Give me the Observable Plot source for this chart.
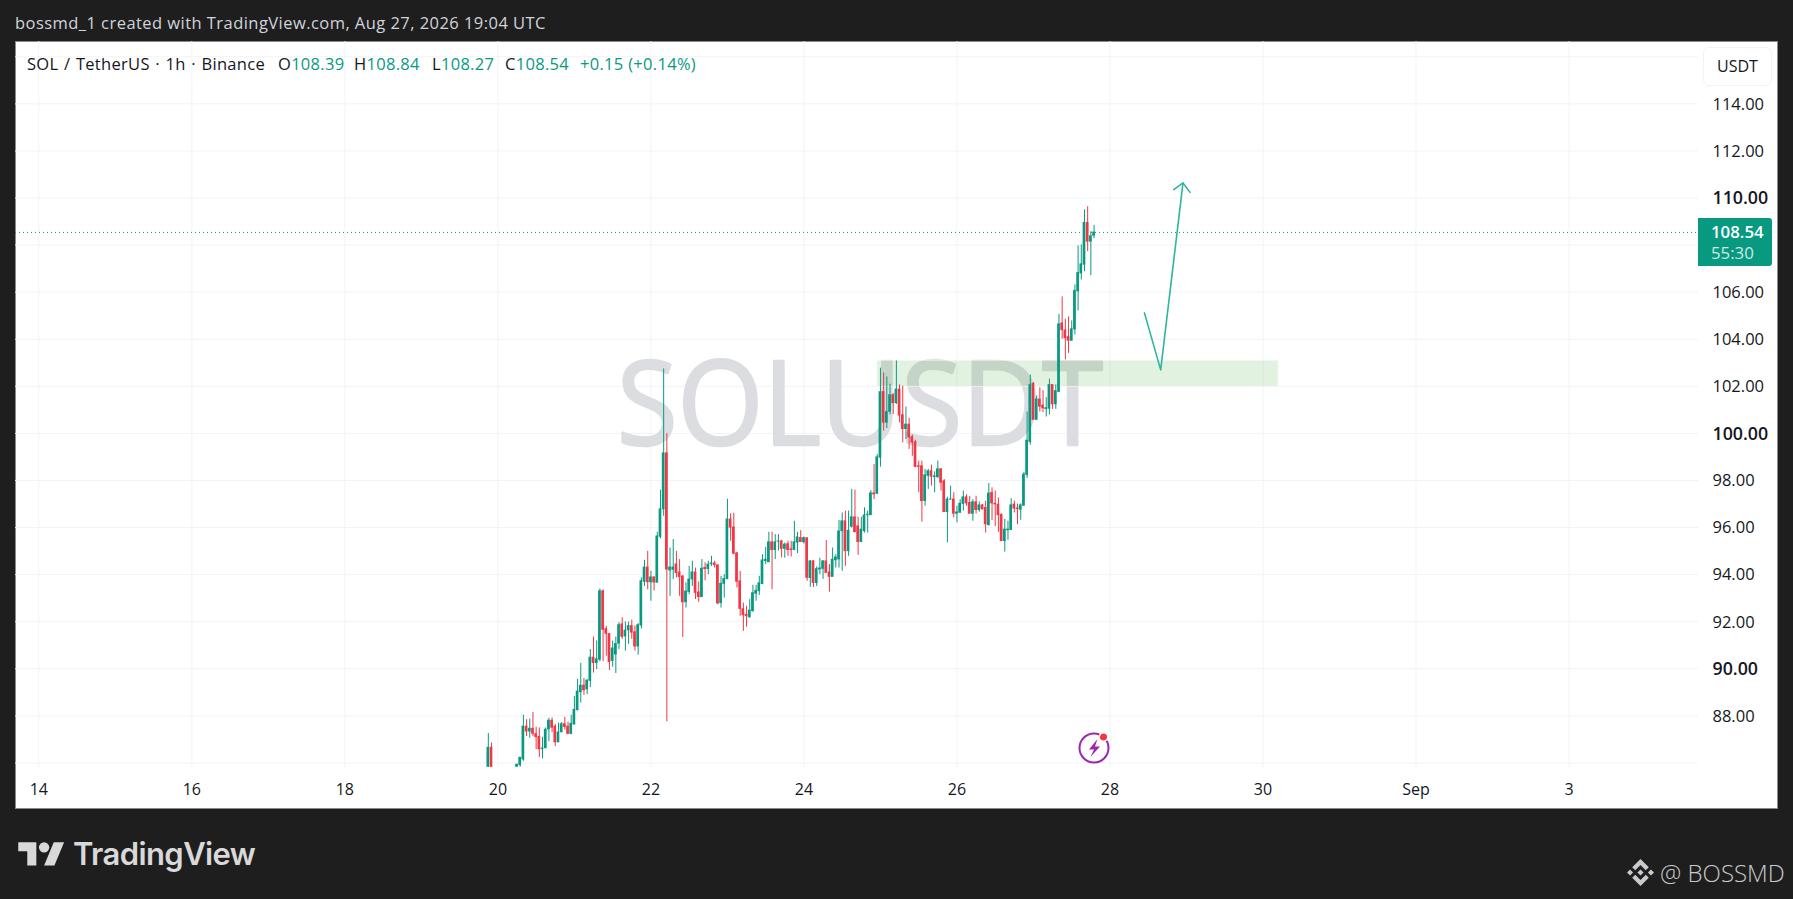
<!DOCTYPE html>
<html><head><meta charset="utf-8">
<script src="https://cdn.jsdelivr.net/npm/d3@7"></script>
<script src="https://cdn.jsdelivr.net/npm/@observablehq/plot@0.6"></script>
<style>
html,body{margin:0;padding:0;width:1793px;height:899px;overflow:hidden;background:#1e1e1e;font-family:"Open Sans",sans-serif}
#pane{position:absolute;left:15px;top:41px;width:1761px;height:766px;background:#fff;border:1px solid #8a8a8a}
#chart{position:absolute;left:0;top:0}
.abs{position:absolute;white-space:nowrap}
.hd{top:53px;font-size:16.5px;line-height:22px;letter-spacing:.3px;color:#131722}
.g{color:#089981}
</style></head><body>
<div id="pane"></div>
<div id="chart"></div>
<div class="abs" style="left:15px;top:12px;font-size:16.5px;letter-spacing:.45px;line-height:22px;color:#d1d4dc">bossmd_1 created with TradingView.com, Aug 27, 2026 19:04 UTC</div>
<div class="abs hd" style="left:27px;word-spacing:1px">SOL / TetherUS · 1h · Binance</div>
<div class="abs hd" style="left:278px">O<span class="g">108.39</span></div>
<div class="abs hd" style="left:354px">H<span class="g">108.84</span></div>
<div class="abs hd" style="left:432px">L<span class="g">108.27</span></div>
<div class="abs hd" style="left:505px">C<span class="g">108.54</span></div>
<div class="abs hd g" style="left:580px">+0.15 (+0.14%)</div>
<div class="abs" style="left:1703px;top:47px;width:67px;height:37px;border:1px solid #f0f3fa;border-radius:6px;background:#fff;color:#131722;font-size:16px;line-height:37px;text-align:center">USDT</div>
<div class="abs" style="left:1698px;top:218px;width:74px;height:48px;background:#089981;border-radius:0 3px 3px 0;color:#fff;font-size:16.8px;line-height:21px;padding:3px 0 0 13px;box-sizing:border-box;font-weight:600">108.54<br><span style="font-weight:400;color:#cfe9e3">55:30</span></div>
<svg class="abs" style="left:1078px;top:731px" width="34" height="34" viewBox="0 0 34 34">
<circle cx="16" cy="17" r="14.5" fill="#fff" stroke="#9c27b0" stroke-width="2"/>
<path d="M19.5 8 L11 18.5 H16 L12.5 26 L22 15.5 H17 Z" fill="#9c27b0"/>
<circle cx="25.5" cy="6" r="4.2" fill="#f23645" stroke="#fff" stroke-width="1.2"/>
</svg>
<svg class="abs" style="left:18px;top:837px" width="47" height="31" viewBox="0 0 36 24">
<path fill="#d9d9d9" d="M14 22H7V11H0V4h14v18zM28 22h-8l7.5-18h8L28 22z"/><circle fill="#d9d9d9" cx="20" cy="8" r="4"/>
</svg>
<div class="abs" style="left:73px;top:834px;font-family:Inter,sans-serif;font-weight:600;font-size:31px;line-height:40px;letter-spacing:-.6px;color:#d9d9d9">TradingView</div>
<svg class="abs" style="left:1627px;top:859px" width="27" height="27" viewBox="0 0 126.61 126.61">
<path fill="#c9cacd" d="M38.73 53.2l24.59-24.58 24.6 24.6 14.3-14.31L63.32 0 24.42 38.9zM0 63.31l14.3-14.31 14.31 14.31-14.31 14.3zM38.73 73.41l24.59 24.59 24.6-24.6 14.31 14.29-38.9 38.91-38.91-38.88zM98 63.31l14.3-14.31 14.31 14.3-14.31 14.32zM77.83 63.3L63.32 48.78 52.59 59.51l-1.24 1.23-2.54 2.54 14.51 14.5 14.51-14.47z"/>
</svg>
<div class="abs" style="left:1660px;top:857px;font-size:24px;line-height:32px;font-weight:300;color:#c9cacd">@ BOSSMD</div>
<script>
// Hours are counted from Aug 14 00:00 UTC; the first candle is at startHour.
const startHour = 141;
const opens = [
85.4,86.65,85.5,85.3,85.4,85.3,85.2,85.4,85.5,85.7,
85.9,86.14,87.55,87.33,87.46,87.23,87.12,86.58,86.62,87.42,
87.8,87.55,86.87,87.3,87.65,87.55,87.23,87.63,88.24,89.0,
89.29,89.12,89.48,90.48,90.24,90.38,93.3,91.69,91.48,90.33,
90.6,91.06,91.89,91.37,91.63,91.82,91.56,90.94,91.83,93.69,
94.31,93.67,93.89,93.65,95.6,96.77,99.16,94.17,94.2,94.44,
94.1,93.93,92.82,93.26,93.79,94.1,93.25,93.04,94.29,94.23,
94.45,94.48,94.4,92.79,93.6,93.8,96.35,96.01,94.91,93.72,
92.54,92.3,92.18,92.44,93.18,93.29,93.6,94.57,94.52,95.38,
95.04,95.4,95.42,95.09,95.3,95.08,95.04,95.35,95.56,95.37,
95.55,93.85,94.57,93.64,94.21,94.24,94.57,94.1,93.9,94.6,
94.64,95.84,96.27,94.99,96.03,96.44,96.06,95.38,95.84,96.52,
96.52,97.46,97.43,98.96,101.76,100.45,100.91,101.63,101.28,101.87,
100.78,100.18,100.38,99.85,99.63,98.61,98.61,97.12,98.19,98.4,
98.14,98.14,98.48,97.97,96.65,97.18,97.2,96.58,96.62,97.0,
97.29,97.05,96.58,97.08,96.74,96.95,96.84,96.1,97.48,97.02,
96.98,96.55,95.42,95.88,95.89,96.98,96.82,96.75,96.92,98.23,
99.63,102.11,100.57,101.45,101.19,101.03,101.04,102.06,101.23,101.76,
104.68,104.38,104.1,103.93,104.41,106.03,106.79,107.16,108.95,108.14,108.39];
const highs = [
87.25,86.85,85.6,85.5,85.6,85.5,85.5,85.6,85.7,85.95,
86.23,88.03,87.84,87.86,88.14,87.52,87.49,87.09,87.49,87.9,
87.91,87.63,87.69,87.72,87.94,87.74,88.03,88.82,89.55,90.23,
89.59,89.55,90.82,91.35,91.18,93.39,93.35,91.8,91.5,91.18,
91.35,91.96,92.17,91.99,91.99,92.07,91.82,91.92,93.87,94.61,
94.99,94.14,93.9,95.8,97.59,102.74,99.99,95.13,95.49,94.99,
94.64,93.96,93.65,94.35,94.57,94.28,93.69,94.64,94.5,94.57,
94.78,94.57,94.42,93.93,94.0,97.2,96.58,96.61,94.94,94.14,
92.79,92.65,92.94,93.55,93.55,93.93,94.85,95.16,95.8,95.8,
95.7,95.7,95.46,95.35,95.42,95.42,96.27,95.8,95.87,95.6,
95.57,94.6,94.6,94.33,94.7,94.6,95.45,94.43,95.13,94.85,
96.3,96.62,96.7,96.7,97.62,97.59,96.44,96.44,96.84,96.7,
97.57,98.68,99.1,102.77,102.57,102.4,102.09,101.7,103.08,102.06,
102.01,101.12,100.64,99.93,99.71,98.82,98.82,98.47,98.47,98.65,
98.37,98.82,98.51,98.04,97.29,97.76,97.48,96.91,97.19,97.55,
97.4,97.33,97.19,97.33,97.09,96.98,97.12,97.87,97.69,97.55,
97.26,96.58,96.35,96.27,97.23,97.12,97.0,97.01,98.34,100.91,
102.48,102.16,101.59,101.94,101.82,101.52,102.3,102.06,102.06,105.06,
105.8,104.85,104.95,104.78,106.31,107.97,108.01,109.5,109.63,108.57,108.84];
const lows = [
85.3,85.2,85.2,85.1,85.2,85.1,85.1,85.3,85.4,85.6,
85.8,86.07,87.12,87.05,87.12,86.57,86.23,86.18,86.6,86.9,
87.29,86.7,86.87,87.28,87.4,87.2,87.2,87.6,88.2,88.54,
88.87,88.9,89.2,89.82,89.97,90.3,90.3,90.54,89.93,90.07,
89.8,90.82,91.25,90.75,91.04,91.25,90.75,90.58,91.69,93.5,
93.36,92.87,93.3,93.65,95.52,96.48,87.75,93.08,93.79,93.86,
93.08,91.33,92.58,93.15,93.5,92.94,92.82,93.04,93.74,94.0,
94.35,94.28,92.72,92.58,93.0,93.8,95.42,94.85,93.43,92.23,
91.59,91.77,92.16,92.41,92.87,93.12,93.57,94.43,94.52,93.36,
94.64,95.0,94.71,94.7,94.78,94.75,95.04,94.9,95.36,95.3,
93.72,93.46,93.46,93.5,94.0,93.8,94.05,93.26,93.9,94.28,
94.28,94.14,94.35,94.78,95.98,95.78,94.82,95.36,95.77,95.77,
96.52,97.19,97.4,98.57,100.1,100.21,100.78,100.8,101.23,100.45,
99.6,99.74,99.32,99.03,98.54,97.48,96.23,96.91,97.62,97.76,
97.48,98.08,97.55,96.65,95.35,97.18,96.41,96.2,96.62,96.7,
96.9,96.58,96.27,96.58,96.65,96.75,95.77,96.06,96.3,96.04,
95.8,95.42,94.96,95.46,95.89,96.62,96.12,96.31,96.92,98.09,
99.5,100.57,100.57,100.91,100.89,100.7,100.78,101.02,101.02,101.73,
104.0,103.12,103.4,103.93,104.18,105.2,106.52,106.87,107.72,106.7,108.27];
const closes = [
86.65,85.5,85.3,85.4,85.3,85.2,85.4,85.5,85.7,85.93,
86.23,87.55,87.33,87.46,87.23,87.09,86.57,86.62,87.42,87.8,
87.49,86.87,87.3,87.65,87.52,87.23,87.67,88.26,89.04,89.29,
89.08,89.5,90.48,90.24,90.41,93.3,91.65,91.48,90.28,90.87,
91.06,91.86,91.35,91.63,91.82,91.53,90.94,91.86,93.73,94.31,
93.67,93.89,93.66,95.63,96.78,99.16,94.21,94.31,94.31,94.06,
93.89,92.82,93.29,93.8,94.1,93.22,93.04,94.26,94.23,94.43,
94.48,94.4,92.77,93.62,93.82,96.35,95.99,94.88,93.69,92.54,
92.27,92.23,92.48,93.22,93.32,93.64,94.61,94.64,95.38,95.04,
95.38,95.42,95.09,95.28,95.04,95.04,95.38,95.59,95.38,95.56,
93.86,94.57,93.64,94.24,94.27,94.57,94.07,93.9,94.64,94.74,
95.84,96.27,94.99,95.87,96.44,95.8,95.38,95.92,96.52,96.55,
97.46,97.4,98.99,101.76,100.45,100.91,101.63,101.28,101.87,100.75,
100.18,100.38,99.82,99.6,98.57,98.57,97.12,98.23,98.4,98.16,
98.18,98.48,97.9,96.65,97.2,97.2,96.58,96.65,97.02,97.29,
97.02,96.58,97.08,96.74,96.95,96.77,96.13,97.45,97.02,96.98,
96.52,95.42,95.92,95.92,96.95,96.8,96.78,96.95,98.26,99.7,
102.06,100.57,101.45,101.13,101.06,101.08,102.06,101.23,101.8,104.64,
104.38,104.04,103.93,104.43,106.06,106.82,107.19,108.95,108.14,108.38,108.54];

const xTicks = [0,48,96,144,192,240,288,336,384,432,480];
const xLabels = ["14","16","18","20","22","24","26","28","30","Sep","3"];
const yGrid = [86,88,90,92,94,96,98,100,102,104,106,108,110,112,114,116];
const yLabelsNormal = [88,92,94,96,98,102,104,106,112,114];
const yLabelsBold = [90,100,110];
const lastClose = 108.54;
const ticker = "SOLUSDT";
const zone = {t1:263.0, t2:388.9, p1:101.98, p2:103.09};
const pathT = [346.8,351.9,358.9];
const pathP = [105.12,102.70,110.64];
const headT = [356.0,358.9,361.1];
const headP = [110.36,110.64,110.24];

const GREEN="#089981", RED="#f23645", GRID="#f2f3f6", TEXT="#131722";
const candles = opens.map((o,i)=>({t:startHour+i,o,h:highs[i],l:lows[i],c:closes[i],col:closes[i]>=o?GREEN:RED}));

const fig = Plot.plot({
  width:1793, height:899,
  marginLeft:15, marginRight:95, marginTop:41, marginBottom:132.3,
  style:{background:"transparent",fontFamily:'"Open Sans",sans-serif',fontSize:"16px",color:TEXT},
  x:{type:"linear",domain:[-7.31,520.6]},
  y:{type:"linear",domain:[85.82,116.65]},
  marks:[
    Plot.gridX(xTicks,{stroke:GRID,strokeOpacity:1}),
    Plot.gridY(yGrid,{stroke:GRID,strokeOpacity:1}),
    Plot.text([ticker],{x:()=>257.6,y:()=>101.1,text:d=>d,fontSize:118,fill:"#dcdde0",stroke:"#dcdde0",strokeWidth:2.6,fontFamily:'"Open Sans",sans-serif',textAnchor:"middle",lineAnchor:"middle"}),
    Plot.rect([zone],{x1:"t1",x2:"t2",y1:"p1",y2:"p2",fill:"#4caf50",fillOpacity:0.17,stroke:"#fff",strokeOpacity:0.6}),
    Plot.ruleX(candles,{x:"t",y1:"l",y2:"h",stroke:"col",strokeWidth:1,clip:true}),
    Plot.rect(candles,{x1:d=>d.t-0.42,x2:d=>d.t+0.42,y1:"o",y2:"c",fill:"col",insetTop:-0.3,insetBottom:-0.3,clip:true}),
    Plot.ruleY([lastClose],{stroke:GREEN,strokeWidth:1,strokeDasharray:"1,3"}),
    Plot.line(pathT.map((t,i)=>({t,p:pathP[i]})),{x:"t",y:"p",stroke:"#2fb59f",strokeWidth:1.6}),
    Plot.line(headT.map((t,i)=>({t,p:headP[i]})),{x:"t",y:"p",stroke:"#2fb59f",strokeWidth:1.6}),
    Plot.axisX(xTicks,{anchor:"bottom",tickSize:0,tickPadding:16,label:null,tickFormat:d=>xLabels[xTicks.indexOf(d)],fill:TEXT}),
    Plot.axisY(yLabelsNormal,{anchor:"right",tickSize:0,tickPadding:14,label:null,tickFormat:d=>d.toFixed(2),fill:TEXT,fontSize:16.5,dy:0.5}),
    Plot.axisY(yLabelsBold,{anchor:"right",tickSize:0,tickPadding:14,label:null,tickFormat:d=>d.toFixed(2),fill:TEXT,fontWeight:600,fontSize:17.8,dy:0.5})
  ]
});
document.getElementById("chart").appendChild(fig);
// Narrow the watermark to the reference's letter proportions.
for (const el of fig.querySelectorAll("text")) {
  if (el.textContent === ticker) { el.setAttribute("textLength", "486"); el.setAttribute("lengthAdjust", "spacingAndGlyphs"); }
}
</script>
</body></html>
